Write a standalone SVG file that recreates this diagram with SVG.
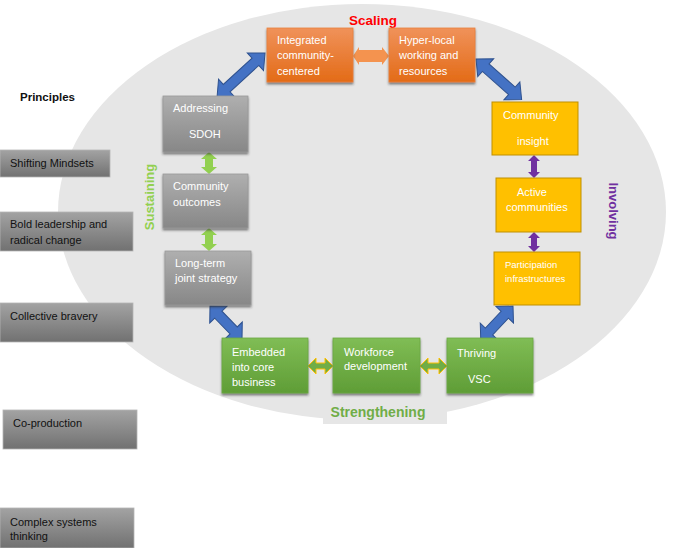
<svg xmlns="http://www.w3.org/2000/svg" width="685" height="548" viewBox="0 0 685 548">
<defs>
<linearGradient id="gOr" x1="0" y1="0" x2="0" y2="1"><stop offset="0" stop-color="#F0925A"/><stop offset="1" stop-color="#E36B17"/></linearGradient>
<linearGradient id="gGr" x1="0" y1="0" x2="0" y2="1"><stop offset="0" stop-color="#AFAFAF"/><stop offset="1" stop-color="#878787"/></linearGradient>
<linearGradient id="gPr" x1="0" y1="0" x2="0" y2="1"><stop offset="0" stop-color="#A3A3A3"/><stop offset="1" stop-color="#717171"/></linearGradient>
<linearGradient id="gGn" x1="0" y1="0" x2="0" y2="1"><stop offset="0" stop-color="#80BD55"/><stop offset="1" stop-color="#5F9D36"/></linearGradient>
<filter id="sh" x="-10%" y="-10%" width="120%" height="130%"><feDropShadow dx="0" dy="2" stdDeviation="1" flood-color="#333" flood-opacity="0.6"/></filter>
</defs>
<style>
text{font-family:"Liberation Sans",Arial,sans-serif;font-size:11px}
.w{fill:#fff}
.k{fill:#111}
.or{fill:url(#gOr);stroke:#E8803E;stroke-width:0.8}
.gr{fill:url(#gGr);stroke:#9a9a9a;stroke-width:0.8}
.pr{fill:url(#gPr);stroke:#b5b5b5;stroke-width:0.8}
.ye{fill:#FFC000;stroke:#BF9000;stroke-width:1}
.gn{fill:url(#gGn);stroke:#6BA843;stroke-width:0.8}
.blue{fill:#4472C4;stroke:#2F528F;stroke-width:1}
.lg{fill:#92D050}
.pu{fill:#7030A0}
.oa{fill:#F4934F}
.ga{fill:#70AD47;stroke:#FFC000;stroke-width:1}
.lbl{font-weight:bold;font-size:14px}
</style>
<rect width="685" height="548" fill="#fff"/>
<ellipse cx="362" cy="212" rx="304" ry="208" fill="#E6E6E6"/>
<rect x="323" y="398" width="124" height="26" fill="#E6E6E6"/>

<g id="connectors">
<path class="blue" transform="translate(265,53) rotate(137.5)" d="M0,0 L13,-12 L13,-5 L52,-5 L52,-12 L65,0 L52,12 L52,5 L13,5 L13,12 Z"/>
<path class="blue" transform="translate(476,59) rotate(41.6)" d="M0,0 L13,-12 L13,-5 L48,-5 L48,-12 L61,0 L48,12 L48,5 L13,5 L13,12 Z"/>
<path class="blue" transform="translate(210,306) rotate(45.9)" d="M0,0 L12,-12 L12,-5 L34,-5 L34,-12 L46,0 L34,12 L34,5 L12,5 L12,12 Z"/>
<path class="blue" transform="translate(513,306) rotate(133.3)" d="M0,0 L12,-12 L12,-5 L35,-5 L35,-12 L47,0 L35,12 L35,5 L12,5 L12,12 Z"/>
<path class="oa" d="M353,56 L359,47 L359,50 L382,50 L382,47 L389,56 L382,65 L382,62 L359,62 L359,65 Z"/>
<path class="lg" d="M209,152 L217,159 L213,159 L213,167 L217,167 L209,174 L201,167 L205,167 L205,159 L201,159 Z"/>
<path class="lg" d="M209,228 L217,235 L213,235 L213,244 L217,244 L209,251 L201,244 L205,244 L205,235 L201,235 Z"/>
<path class="pu" d="M534,155 L540,161 L537,161 L537,172 L540,172 L534,178 L528,172 L531,172 L531,161 L528,161 Z"/>
<path class="pu" d="M534,232 L540,238 L537,238 L537,246 L540,246 L534,252 L528,246 L531,246 L531,238 L528,238 Z"/>
<path class="ga" d="M308,366 L316,358 L316,363 L325,363 L325,358 L333,366 L325,374 L325,369 L316,369 L316,374 Z"/>
<path class="ga" d="M420,366 L428,358 L428,363 L439,363 L439,358 L447,366 L439,374 L439,369 L428,369 L428,374 Z"/>
</g>

<text x="373" y="25" text-anchor="middle" class="lbl" fill="#FF0000" style="font-size:13.5px">Scaling</text>
<text x="378" y="417" text-anchor="middle" class="lbl" fill="#70AD47">Strengthening</text>
<text transform="translate(154,197) rotate(-90)" text-anchor="middle" class="lbl" fill="#92D050" style="font-size:13px">Sustaining</text>
<text transform="translate(609,211) rotate(90)" text-anchor="middle" class="lbl" fill="#7030A0" style="font-size:13px">Involving</text>
<text x="20" y="101" class="k" style="font-weight:bold;font-size:11.5px">Principles</text>

<g id="n-integrated"><rect class="or" x="267" y="28" width="86" height="54" filter="url(#sh)"/>
<text class="w" x="277" y="44">Integrated</text><text class="w" x="277" y="59">community-</text><text class="w" x="277" y="75">centered</text></g>
<g id="n-hyperlocal"><rect class="or" x="389" y="28" width="86" height="54" filter="url(#sh)"/>
<text class="w" x="399" y="44">Hyper-local</text><text class="w" x="399" y="59">working and</text><text class="w" x="399" y="75">resources</text></g>

<g id="n-sdoh"><rect class="gr" x="163" y="96" width="85" height="56" filter="url(#sh)"/>
<text class="w" x="173" y="112">Addressing</text><text class="w" x="189" y="138">SDOH</text></g>
<g id="n-outcomes"><rect class="gr" x="163" y="174" width="85" height="54" filter="url(#sh)"/>
<text class="w" x="173" y="190">Community</text><text class="w" x="173" y="206">outcomes</text></g>
<g id="n-longterm"><rect class="gr" x="165" y="251" width="86" height="54" filter="url(#sh)"/>
<text class="w" x="175" y="267">Long-term</text><text class="w" x="175" y="282">joint strategy</text></g>

<g id="n-insight"><rect class="ye" x="492" y="102" width="86" height="53"/>
<text class="w" x="503" y="119">Community</text><text class="w" x="517" y="145">insight</text></g>
<g id="n-active"><rect class="ye" x="496" y="178" width="85" height="54"/>
<text class="w" x="517" y="196">Active</text><text class="w" x="506" y="211">communities</text></g>
<g id="n-participation"><rect class="ye" x="494" y="252" width="86" height="53"/>
<text class="w" x="505" y="268" style="font-size:9.5px">Participation</text><text class="w" x="505" y="282" style="font-size:9.5px">infrastructures</text></g>

<g id="n-embedded"><rect class="gn" x="222" y="338" width="86" height="55" filter="url(#sh)"/>
<text class="w" x="232" y="356">Embedded</text><text class="w" x="232" y="371">into core</text><text class="w" x="232" y="386">business</text></g>
<g id="n-workforce"><rect class="gn" x="333" y="338" width="87" height="55" filter="url(#sh)"/>
<text class="w" x="344" y="356">Workforce</text><text class="w" x="344" y="370">development</text></g>
<g id="n-thriving"><rect class="gn" x="447" y="338" width="86" height="55" filter="url(#sh)"/>
<text class="w" x="457" y="357">Thriving</text><text class="w" x="468" y="383">VSC</text></g>

<g id="p-shifting"><rect class="pr" x="0" y="150" width="110" height="27"/><text class="k" x="10" y="167">Shifting Mindsets</text></g>
<g id="p-bold"><rect class="pr" x="0" y="212" width="133" height="39"/><text class="k" x="10" y="228">Bold leadership and</text><text class="k" x="10" y="244">radical change</text></g>
<g id="p-bravery"><rect class="pr" x="0" y="303" width="133" height="39"/><text class="k" x="10" y="320">Collective bravery</text></g>
<g id="p-coproduction"><rect class="pr" x="3" y="410" width="134" height="39"/><text class="k" x="13" y="427">Co-production</text></g>
<g id="p-complex"><rect class="pr" x="0" y="508" width="134" height="40"/><text class="k" x="10" y="526">Complex systems</text><text class="k" x="10" y="540">thinking</text></g>
</svg>
